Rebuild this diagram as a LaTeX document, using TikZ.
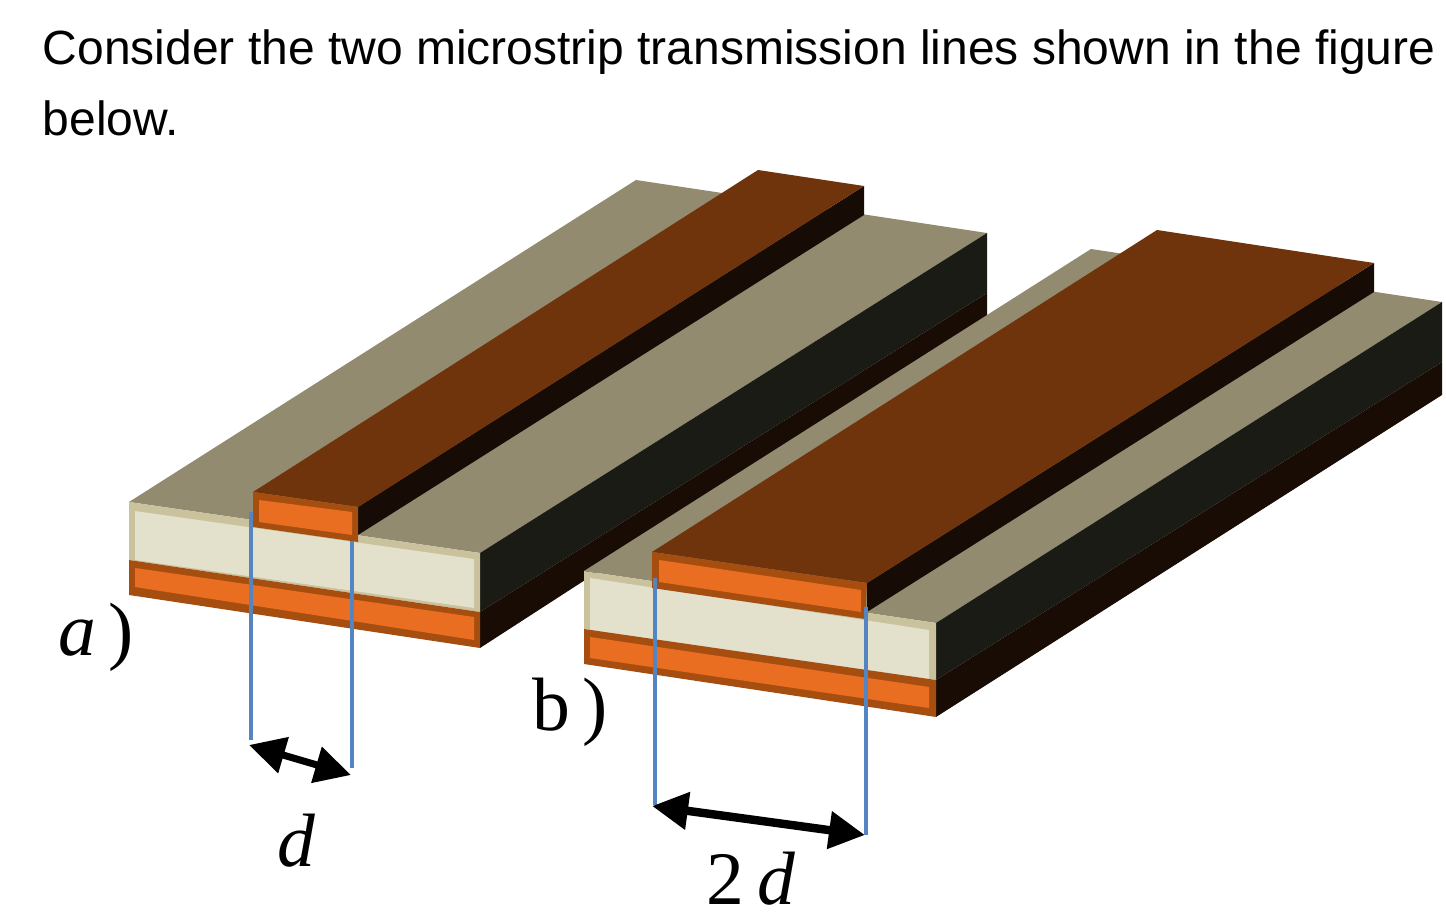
\documentclass[tikz,border=0pt]{standalone}
\usepackage{fontspec}
\setmainfont{Liberation Sans}
\newfontfamily\figfont{Liberation Serif}
\usetikzlibrary{arrows.meta}
\definecolor{topcol}{HTML}{928B70}
\definecolor{sidecol}{HTML}{1B1B16}
\definecolor{groundside}{HTML}{190C04}
\definecolor{stripside}{HTML}{160C05}
\definecolor{striptop}{HTML}{70340D}
\definecolor{copperedge}{HTML}{A54E10}
\definecolor{copper}{HTML}{E96E22}
\definecolor{subedge}{HTML}{C9C29C}
\definecolor{subfill}{HTML}{E3E0CC}
\definecolor{leadercol}{HTML}{5585C0}
\tikzset{
  plate/.style={fill=#1},
  leader/.style={draw=leadercol, line width=1pt},
  dimarrow/.style={draw=black, line width=#1, {Triangle[length=0.36cm, width=0.36cm]}-{Triangle[length=0.36cm, width=0.36cm]}},
  caption/.style={anchor=base west, inner sep=0pt, font=\fontsize{13.65pt}{15pt}\selectfont},
  figlabel/.style={anchor=base, inner sep=0pt, font=\figfont\fontsize{21.5pt}{24pt}\selectfont},
}
\begin{document}
\begin{tikzpicture}[x=0.01cm, y=-0.01cm]
  \useasboundingbox (0, 0) rectangle (1446, 916);
  \node[caption] (line1) at (42, 65) {Consider the two microstrip transmission lines shown in the figure};
  \node[caption] (line2) at (42, 136) {below.};
  % line a
  \fill[plate=topcol] (129, 502) -- (636, 180) -- (987, 233) -- (480, 553) -- cycle;
  \fill[plate=sidecol] (480, 553) -- (987, 233) -- (987, 293) -- (480, 612) -- cycle;
  \fill[plate=groundside] (480, 612) -- (987, 293) -- (987, 320) -- (480, 648) -- cycle;
  \fill[plate=subedge] (129, 502) -- (480, 553) -- (480, 612) -- (129, 560) -- cycle;
  \fill[plate=subfill] (135, 511) -- (474, 559) -- (474, 608) -- (135, 560) -- cycle;
  \fill[plate=copperedge] (129, 560) -- (480, 612) -- (480, 648) -- (129, 595) -- cycle;
  \fill[plate=copper] (135, 568) -- (474, 617) -- (474, 640) -- (135, 587) -- cycle;
  \fill[plate=stripside] (358, 507) -- (864, 186) -- (864, 215) -- (358, 535) -- cycle;
  \fill[plate=striptop] (253, 492) -- (758, 170) -- (864, 186) -- (358, 507) -- cycle;
  \fill[plate=copperedge] (253, 492) -- (358, 507) -- (358, 542) -- (253, 527) -- cycle;
  \fill[plate=copper] (259, 500) -- (352, 512) -- (352, 535) -- (259, 522) -- cycle;
  % line b
  \fill[plate=topcol] (584, 571) -- (1091, 249) -- (1442, 302) -- (936, 623) -- cycle;
  \fill[plate=sidecol] (936, 623) -- (1442, 302) -- (1442, 362) -- (936, 680) -- cycle;
  \fill[plate=groundside] (936, 680) -- (1442, 362) -- (1442, 395) -- (936, 717) -- cycle;
  \fill[plate=subedge] (584, 571) -- (936, 623) -- (936, 680) -- (584, 629) -- cycle;
  \fill[plate=subfill] (590, 578) -- (929, 630) -- (929, 680) -- (590, 630) -- cycle;
  \fill[plate=copperedge] (584, 629) -- (936, 680) -- (936, 717) -- (584, 664) -- cycle;
  \fill[plate=copper] (590, 637) -- (929, 687) -- (929, 708) -- (590, 658) -- cycle;
  \fill[plate=stripside] (867, 583) -- (1374, 263) -- (1374, 292) -- (867, 612) -- cycle;
  \fill[plate=striptop] (652, 552) -- (1157, 230) -- (1374, 263) -- (867, 583) -- cycle;
  \fill[plate=copperedge] (652, 552) -- (867, 583) -- (865, 619) -- (652, 588) -- cycle;
  \fill[plate=copper] (659, 560) -- (861, 590) -- (861, 612) -- (659, 582) -- cycle;
  % leaders and dimensions
  \coordinate (atopl) at (251, 512);
  \coordinate (abotl) at (251, 740);
  \coordinate (atopr) at (352, 541);
  \coordinate (abotr) at (352, 768);
  \coordinate (btopl) at (655, 578);
  \coordinate (bbotl) at (655, 805);
  \coordinate (btopr) at (866, 607);
  \coordinate (bbotr) at (866, 835);
  \draw[leader] (atopl) -- (abotl);
  \draw[leader] (atopr) -- (abotr);
  \draw[leader] (btopl) -- (bbotl);
  \draw[leader] (btopr) -- (bbotr);
  \coordinate (adiml) at (249, 745);
  \coordinate (adimr) at (351, 775);
  \coordinate (bdiml) at (652, 806);
  \coordinate (bdimr) at (865, 835);
  \draw[dimarrow=2pt] (adiml) -- (adimr);
  \draw[dimarrow=2.4pt] (bdiml) -- (bdimr);
  \node[figlabel] (alabel) at (96, 655) {\textit{a}\,)};
  \node[figlabel] (blabel) at (570, 730) {b\,)};
  \node[figlabel] (dlabel) at (296, 866) {\textit{d}};
  \node[figlabel] (twodlabel) at (751, 904) {2\,\textit{d}};
\end{tikzpicture}
\end{document}
